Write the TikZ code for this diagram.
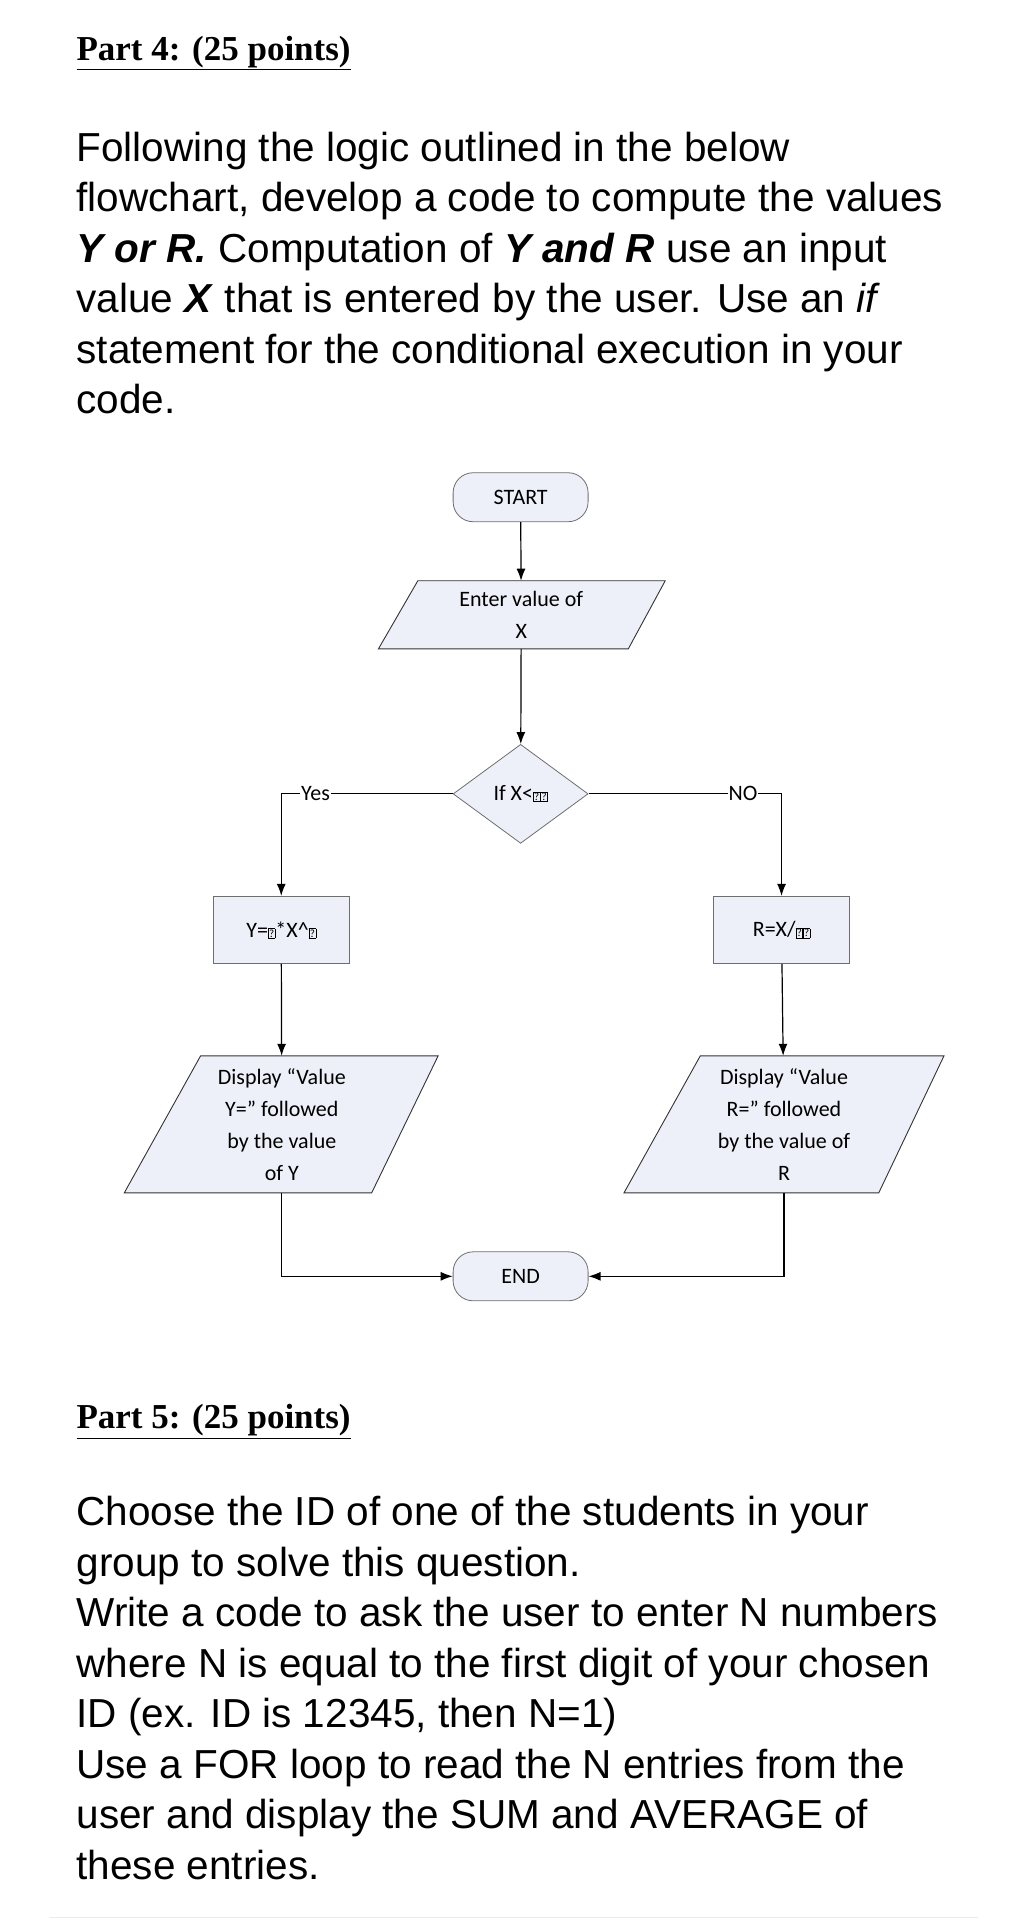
\documentclass[tikz,border=0pt]{standalone}
\usepackage{fontspec}
\setmainfont{Liberation Sans}
\newfontfamily\headfont{Liberation Serif}
\newfontfamily\flowfont{Carlito}
\usetikzlibrary{shapes.geometric,arrows.meta}
\definecolor{flowfill}{RGB}{238,240,249}
\definecolor{edgegrey}{RGB}{110,110,110}
\newcommand{\qb}{{\setlength{\fboxsep}{0.6pt}\setlength{\fboxrule}{0.5pt}\fbox{\fontsize{11pt}{11pt}\selectfont ?}}}
\begin{document}
\begin{tikzpicture}[x=1.2308pt,y=-1.2308pt,
    body/.style={anchor=base west,align=left,inner sep=0pt,
      font=\fontsize{40.5pt}{50.5pt}\selectfont},
    head/.style={anchor=base west,inner sep=0pt,
      font=\headfont\bfseries\fontsize{35pt}{40pt}\selectfont},
    ftext/.style={font=\flowfont\fontsize{22pt}{32pt}\selectfont,align=center},
    term/.style={ftext,draw=edgegrey,line width=0.8pt,fill=flowfill,rounded corners=20pt,
      minimum width=135pt,minimum height=49pt},
    proc/.style={ftext,draw=edgegrey,line width=0.9pt,fill=flowfill,
      minimum width=136pt,minimum height=67pt},
    dec/.style={ftext,draw=edgegrey,line width=0.8pt,fill=flowfill,diamond,aspect=1.36,
      inner sep=0pt,minimum width=135pt,minimum height=99pt},
    iobox/.style={ftext,draw=none,inner sep=0pt},
    para/.style={draw=black!80,line width=0.9pt,fill=flowfill},
    arr/.style={-{Latex[length=12pt,width=9pt]},line width=1.2pt},
    lab/.style={ftext,fill=white,inner sep=1pt}]
\useasboundingbox (0,0) rectangle (830.4,1560);

% Part 4
\node[head] (h4) at (62,49) {\underline{Part 4: (25 points)}};
\node[body] (p4) at (62,336) {Following the logic outlined in the below\\
flowchart, develop a code to compute the values\\
\textbf{\textit{Y or R.}} Computation of \textbf{\textit{Y and R}} use an input\\
value \textbf{\textit{X}} that is entered by the user. Use an \textit{if}\\
statement for the conditional execution in your\\
code.};

% flowchart
\node[term] (start) at (423,404) {START};
\node[iobox,minimum width=200*1.2308pt,minimum height=55*1.2308pt] (enter) at (423.5,499.5) {};
\draw[para] ([xshift=-84*1.2308pt]enter.north) -- ([xshift=117*1.2308pt]enter.north)
  -- ([xshift=87*1.2308pt]enter.south) -- ([xshift=-116*1.2308pt]enter.south) -- cycle;
\path (enter) node[ftext] {Enter value of\\X};
\node[dec] (cond) at (423,645) {If X<\qb\qb};
\node[proc] (ybox) at (228.5,755.5) {Y=\qb*X\^{}\qb};
\node[proc] (rbox) at (635,755.5) {R=X/\qb\qb};
\node[iobox,minimum width=190*1.2308pt,minimum height=111*1.2308pt] (dispy) at (229,913.5) {};
\draw[para] ([xshift=-66*1.2308pt]dispy.north) -- ([xshift=127*1.2308pt]dispy.north)
  -- ([xshift=73*1.2308pt]dispy.south) -- ([xshift=-128*1.2308pt]dispy.south) -- cycle;
\path (dispy) node[ftext] {Display “Value\\Y=” followed\\by the value\\of Y};
\node[iobox,minimum width=200*1.2308pt,minimum height=111*1.2308pt] (dispr) at (637,913.5) {};
\draw[para] ([xshift=-68*1.2308pt]dispr.north) -- ([xshift=130*1.2308pt]dispr.north)
  -- ([xshift=77*1.2308pt]dispr.south) -- ([xshift=-130*1.2308pt]dispr.south) -- cycle;
\path (dispr) node[ftext] {Display “Value\\R=” followed\\by the value of\\R};
\node[term] (end) at (423,1037) {END};

\draw[arr] (start) -- (enter);
\draw[arr] (enter) -- (cond);
\draw[arr] (cond.west) -| node[lab,pos=0.4] {Yes} (ybox.north);
\draw[arr] (cond.east) -| node[lab,pos=0.4] {NO} (rbox.north);
\draw[arr] (ybox) -- (dispy);
\draw[arr] (rbox) -- (dispr);
\draw[arr] (dispy.south) |- (end.west);
\draw[arr] (dispr.south) |- (end.east);

% Part 5
\node[head] (h5) at (62,1161) {\underline{Part 5: (25 points)}};
\node[body] (p5) at (62,1527) {Choose the ID of one of the students in your\\
group to solve this question.\\
Write a code to ask the user to enter N numbers\\
where N is equal to the first digit of your chosen\\
ID (ex. ID is 12345, then N=1)\\
Use a FOR loop to read the N entries from the\\
user and display the SUM and AVERAGE of\\
these entries.};
\draw[black!8,line width=1pt] (40,1558) -- (795,1558);
\end{tikzpicture}
\end{document}
